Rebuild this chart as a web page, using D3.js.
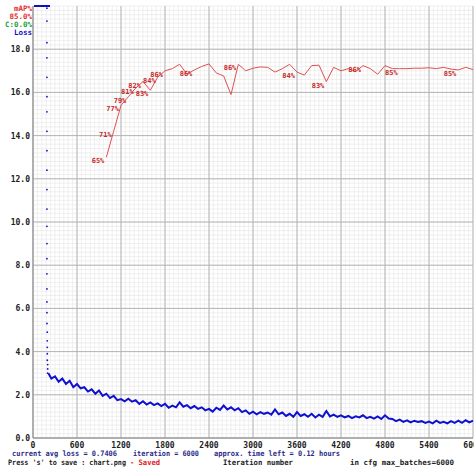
<!DOCTYPE html><html><head><meta charset="utf-8">
<script src="https://cdn.jsdelivr.net/npm/d3@7"></script>
<style>body{margin:0;background:#fff}svg{display:block}text{font-family:"DejaVu Sans Mono",monospace;font-weight:bold}</style>
</head><body><svg id="c" width="474" height="474"></svg>
<script>
const xTicks=[0,600,1200,1800,2400,3000,3600,4200,4800,5400,6000];
const yTicks=[0,2,4,6,8,10,12,14,16,18];
const mapIter=[1000,1100,1200,1300,1400,1500,1600,1700,1800,1900,2000,2100,2200,2300,2400,2500,2600,2700,2800,2900,3000,3100,3200,3300,3400,3500,3600,3700,3800,3900,4000,4100,4200,4300,4400,4500,4600,4700,4800,4900,5000,5100,5200,5300,5400,5500,5600,5700,5800,5900,6000];
const mapVal=[65,71,77,79,81,82.5,80.5,83.5,85,85.5,86.5,84.2,85.2,86,86.6,84.5,83.8,79.5,86.5,85,85.6,85.9,85.8,84.7,85.5,86.5,84.7,84,86.2,86.3,82.5,85.8,85,85.5,84.8,86.2,85.5,84.2,86.2,85.5,85.5,85.5,85.6,85.6,85.7,85.5,85.8,85.4,85.2,85.8,85.3];
const labelIter=[1000,1100,1200,1300,1400,1500,1600,1700,1800,2200,2800,3600,4000,4500,5000,5800];
const labelText=["65%","71%","77%","79%","81%","82%","83%","84%","86%","86%","86%","84%","83%","86%","85%","85%"];
const earlyIter=[190,190,190,190,190,190,190,190,190,190,190,190,190,190,190,190,190,190,190,190,195,195,195,195,195,200,200,200];
const earlyLoss=[19.9,19.3,18.3,17.6,16.7,15.8,15.1,14.2,13.3,12.4,11.5,10.6,9.8,9.0,8.3,7.6,6.9,6.3,5.8,5.3,4.9,4.5,4.2,3.9,3.6,3.4,3.2,3.0];
const lossIter=[210,250,300,350,400,450,500,550,600,650,700,750,800,850,900,950,1000,1050,1100,1150,1200,1250,1300,1350,1400,1450,1500,1550,1600,1650,1700,1750,1800,1850,1900,1950,2000,2050,2100,2150,2200,2250,2300,2350,2400,2450,2500,2550,2600,2650,2700,2750,2800,2850,2900,2950,3000,3050,3100,3150,3200,3250,3300,3350,3400,3450,3500,3550,3600,3650,3700,3750,3800,3850,3900,3950,4000,4050,4100,4150,4200,4250,4300,4350,4400,4450,4500,4550,4600,4650,4700,4750,4800,4850,4900,4950,5000,5050,5100,5150,5200,5250,5300,5350,5400,5450,5500,5550,5600,5650,5700,5750,5800,5850,5900,5950,6000];
const lossVal=[3.0,2.75,2.85,2.6,2.75,2.5,2.65,2.35,2.5,2.3,2.35,2.15,2.25,2.05,2.2,1.95,2.05,1.85,1.95,1.75,1.8,1.7,1.82,1.68,1.75,1.58,1.7,1.55,1.65,1.52,1.6,1.48,1.58,1.4,1.5,1.42,1.65,1.45,1.52,1.38,1.48,1.35,1.42,1.28,1.35,1.22,1.4,1.3,1.5,1.32,1.42,1.28,1.38,1.2,1.28,1.12,1.22,1.1,1.2,1.12,1.18,1.08,1.32,1.1,1.18,1.02,1.12,0.98,1.2,1.02,1.1,0.98,1.12,0.95,1.08,0.98,1.25,1.0,1.08,0.98,1.05,0.95,1.02,0.92,1.0,0.95,1.05,0.92,0.98,0.9,1.0,0.88,1.05,0.9,0.88,0.78,0.85,0.75,0.82,0.72,0.8,0.74,0.78,0.7,0.76,0.68,0.8,0.7,0.75,0.68,0.78,0.7,0.8,0.7,0.82,0.72,0.8];
const svg=d3.select("#c");
const x=d3.scaleLinear().domain([0,6000]).range([33,473]);
const y=d3.scaleLinear().domain([0,20]).range([438,6]);
const yp=d3.scaleLinear().domain([0,100]).range([438,6]);
const g=svg.append("g");
g.selectAll(".mx").data(d3.range(0,6001,60)).join("line").attr("x1",d=>x(d)).attr("x2",d=>x(d)).attr("y1",6).attr("y2",438).attr("stroke","#e6e6e6").attr("stroke-width",0.6);
g.selectAll(".my").data(d3.range(0,101).map(i=>i*0.2)).join("line").attr("x1",33).attr("x2",473).attr("y1",d=>y(d)).attr("y2",d=>y(d)).attr("stroke","#e6e6e6").attr("stroke-width",0.6);
g.selectAll(".Mx").data(xTicks).join("line").attr("x1",d=>x(d)).attr("x2",d=>x(d)).attr("y1",6).attr("y2",438).attr("stroke","#b4b4b4").attr("stroke-width",1);
g.selectAll(".My").data(yTicks).join("line").attr("x1",33).attr("x2",473).attr("y1",d=>y(d)).attr("y2",d=>y(d)).attr("stroke","#b4b4b4").attr("stroke-width",1);
svg.append("line").attr("x1",33).attr("x2",33).attr("y1",6).attr("y2",438).attr("stroke","#888");
svg.append("line").attr("x1",33).attr("x2",473).attr("y1",438).attr("y2",438).attr("stroke","#888");
svg.selectAll(".yl").data(yTicks).join("text").attr("x",30).attr("y",d=>y(d)+3).attr("text-anchor","end").attr("font-size",8).attr("fill","#222").text(d=>d.toFixed(1));
svg.selectAll(".xl").data(xTicks).join("text").attr("x",d=>x(d)).attr("y",448).attr("text-anchor","middle").attr("font-size",8).attr("fill","#222").text(d=>d);
svg.selectAll(".ed").data(earlyIter).join("circle").attr("cx",d=>x(d)).attr("cy",(d,i)=>y(earlyLoss[i])).attr("r",0.9).attr("fill","#1010d0");
svg.append("path").datum(lossIter).attr("fill","none").attr("stroke","#1010d0").attr("stroke-width",2)
 .attr("d",d3.line().x(d=>x(d)).y((d,i)=>y(lossVal[i])));
svg.append("path").datum(mapIter).attr("fill","none").attr("stroke","#e05050").attr("stroke-width",1)
 .attr("d",d3.line().x(d=>x(d)).y((d,i)=>yp(mapVal[i])));
svg.selectAll(".ml").data(labelIter).join("text").attr("x",d=>x(d)-2).attr("y",(d,i)=>yp(mapVal[mapIter.indexOf(d)])+6).attr("text-anchor","end").attr("font-size",7).attr("fill","#c82828").text((d,i)=>labelText[i]);
svg.append("line").attr("x1",34).attr("x2",50).attr("y1",6).attr("y2",6).attr("stroke","#1010c0").attr("stroke-width",2);
const leg=[["mAP%","#e03030",11],["85.0%","#e03030",19],["C:0.0%","#20a040",27],["Loss","#1010d0",35]];
svg.selectAll(".lg").data(leg).join("text").attr("x",32).attr("y",d=>d[2]).attr("text-anchor","end").attr("font-size",7.5).attr("fill",d=>d[1]).text(d=>d[0]);
const t1=[["current avg loss = 0.7406",12,105],["iteration = 6000",133,66],["approx. time left = 0.12 hours",214,126]];
svg.selectAll(".t1").data(t1).join("text").attr("x",d=>d[1]).attr("y",456).attr("font-size",7.5).attr("textLength",d=>d[2]).attr("lengthAdjust","spacingAndGlyphs").attr("fill","#2a2a8a").text(d=>d[0]);
svg.append("text").attr("x",8).attr("y",465).attr("font-size",7.5).attr("textLength",118).attr("lengthAdjust","spacingAndGlyphs").attr("fill","#222").text("Press 's' to save : chart.png");
svg.append("text").attr("x",130).attr("y",465).attr("font-size",7.5).attr("textLength",30).attr("lengthAdjust","spacingAndGlyphs").attr("fill","#e02020").text("- Saved");
svg.append("text").attr("x",223).attr("y",465).attr("font-size",7.5).attr("textLength",70).attr("lengthAdjust","spacingAndGlyphs").attr("fill","#222").text("Iteration number");
svg.append("text").attr("x",350).attr("y",465).attr("font-size",7.5).attr("textLength",104).attr("lengthAdjust","spacingAndGlyphs").attr("fill","#222").text("in cfg max_batches=6000");
</script></body></html>
